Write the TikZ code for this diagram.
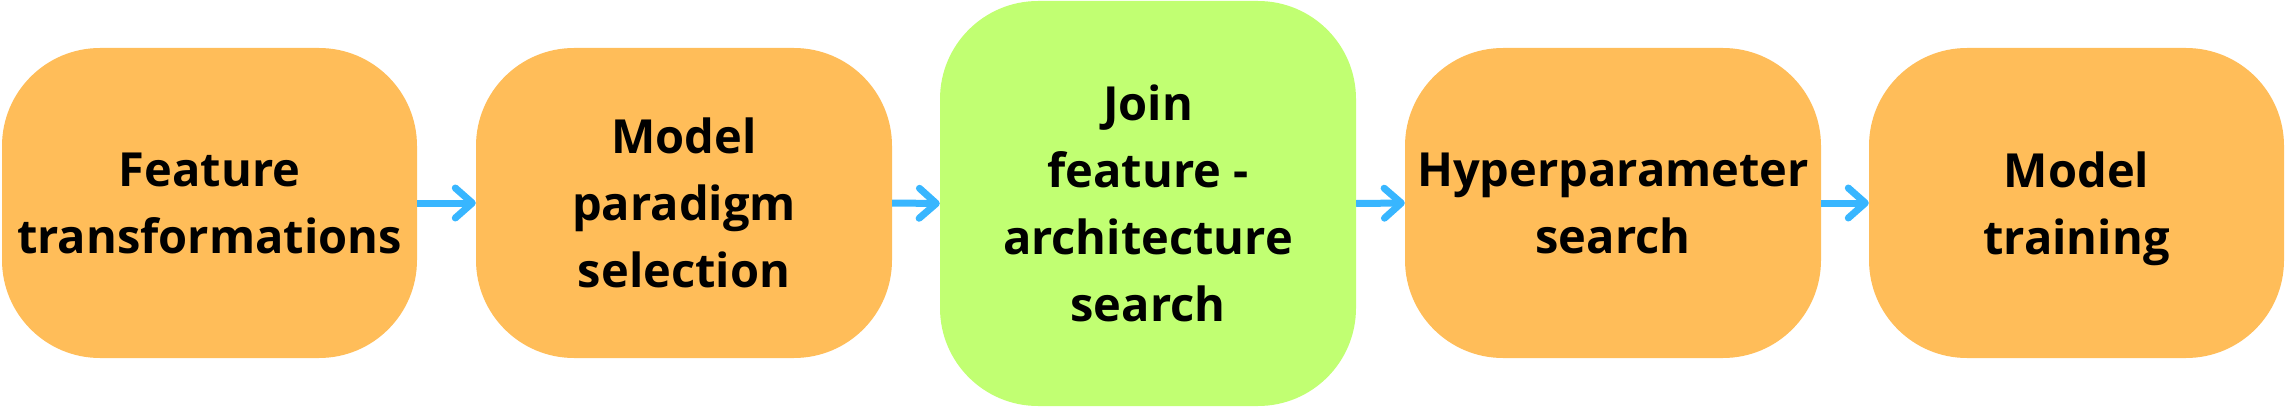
\documentclass[tikz,border=0pt]{standalone}
\usepackage{fontspec}
\setmainfont{Open Sans}
\usetikzlibrary{arrows.meta}
\definecolor{boxorange}{HTML}{FFBD59}
\definecolor{boxgreen}{HTML}{C1FF72}
\definecolor{arrowblue}{HTML}{38B6FF}
\begin{document}
\begin{tikzpicture}[x=1pt,y=1pt,
  stagebox/.style={fill=boxorange, draw=none, rounded corners=98pt, inner sep=0pt,
    align=center, font=\fontsize{47}{67}\selectfont\bfseries, text=black, text depth=0pt},
  flowarrow/.style={draw=arrowblue, line width=7pt,
    -{Straight Barb[length=17pt,width=30pt,line width=7pt,round]}}]
\useasboundingbox (0,0) rectangle (2286,408);
\node[stagebox, minimum width=415pt, minimum height=310pt] (s1) at (209.5,205) {Feature\\transformations};
\node[stagebox, minimum width=416pt, minimum height=310pt] (s2) at (684,205) {Model\\paradigm\\selection};
\node[stagebox, fill=boxgreen, minimum width=416pt, minimum height=405pt] (s3) at (1148,204.5) {Join\\feature -\\architecture\\search};
\node[stagebox, minimum width=416pt, minimum height=310pt] (s4) at (1613,205) {Hyperparameter\\search};
\node[stagebox, minimum width=415pt, minimum height=310pt] (s5) at (2076.5,205) {Model\\training};
\draw[flowarrow] (s1.east) -- (s2.west);
\draw[flowarrow] (s2.east) -- (s3.west);
\draw[flowarrow] (s3.east) -- (s4.west);
\draw[flowarrow] (s4.east) -- (s5.west);
\end{tikzpicture}
\end{document}
